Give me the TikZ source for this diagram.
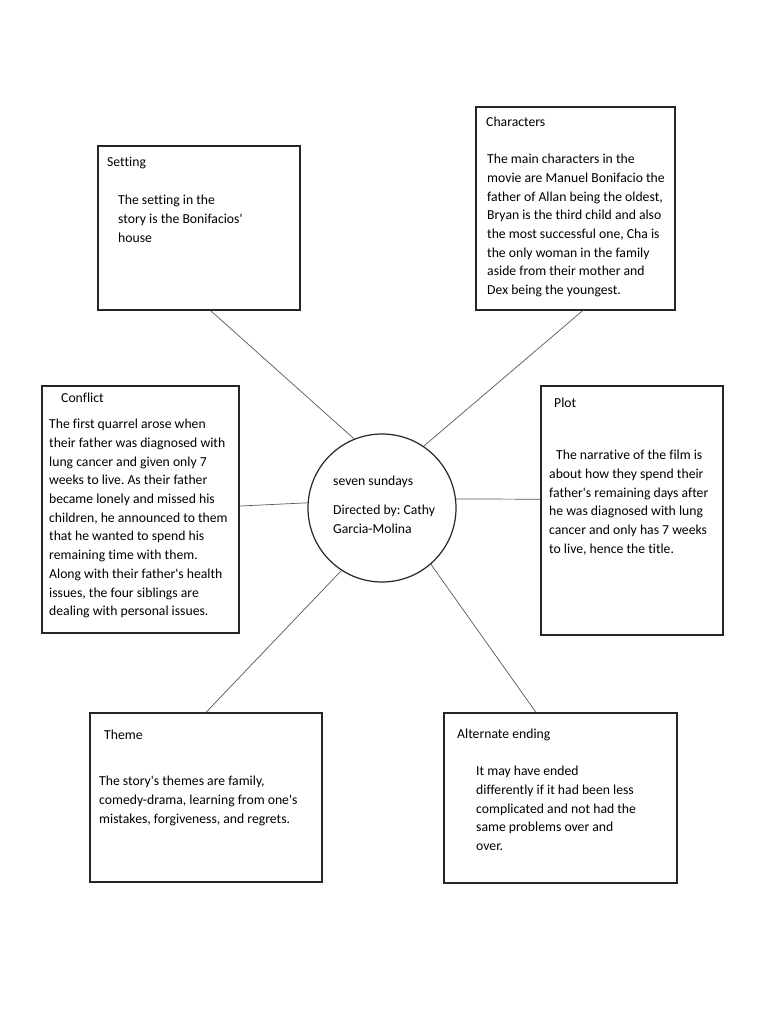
\documentclass[tikz,border=0pt]{standalone}
\usepackage{fontspec}
\setmainfont{Carlito}[Ligatures={TeX,NoCommon}]
\usepackage{tikz}
\usetikzlibrary{positioning, calc}
\frenchspacing

\begin{document}
\begin{tikzpicture}[x=1pt, y=-1pt,
        font=\fontsize{13.7}{18.7}\selectfont,
        infobox/.style={draw=black!85, line width=1.3pt, inner sep=0pt},
        hubcircle/.style={circle, draw=black!85, line width=1.2pt, inner sep=0pt, minimum size=148pt},
        title/.style={anchor=north west, inner sep=0pt, text=black},
        body/.style={anchor=north west, inner sep=0pt, align=left, text=black},
        spoke/.style={draw=black!65, line width=0.7pt}]
    \useasboundingbox[fill=white] (0,0) rectangle (768,1024);

    % Centre of the web
    \node[hubcircle] (hub) at (382,508) {};
    \node[body] (hubtext) at (333,476) {seven sundays\\[10pt]Directed by: Cathy\\Garcia-Molina};

    % Setting
    \node[infobox, minimum width=202pt, minimum height=164pt] (setting) at (199,228) {};
    \node[title] (settingtitle) at (107,157) {Setting};
    \node[body] (settingbody) at (118,195) {The setting in the\\story is the Bonifacios\textquotesingle\\house};

    % Characters
    \node[infobox, minimum width=199pt, minimum height=203pt] (characters) at (575.5,208.5) {};
    \node[title] (characterstitle) at (486,117) {Characters};
    \node[body] (charactersbody) at (487,154) {The main characters in the\\movie are Manuel Bonifacio the\\father of Allan being the oldest,\\Bryan is the third child and also\\the most successful one, Cha is\\the only woman in the family\\aside from their mother and\\Dex being the youngest.};

    % Conflict
    \node[infobox, minimum width=197pt, minimum height=247pt] (conflict) at (140.5,509.5) {};
    \node[title] (conflicttitle) at (61,393) {Conflict};
    \node[body] (conflictbody) at (49,419) {The first quarrel arose when\\their father was diagnosed with\\lung cancer and given only 7\\weeks to live. As their father\\became lonely and missed his\\children, he announced to them\\that he wanted to spend his\\remaining time with them.\\Along with their father\textquotesingle s health\\issues, the four siblings are\\dealing with personal issues.};

    % Plot
    \node[infobox, minimum width=182pt, minimum height=249pt] (plot) at (632,510.5) {};
    \node[title] (plottitle) at (554,398) {Plot};
    \node[body] (plotbody) at (549,450) {\hspace*{7pt}The narrative of the film is\\about how they spend their\\father\textquotesingle s remaining days after\\he was diagnosed with lung\\cancer and only has 7 weeks\\to live, hence the title.};

    % Theme
    \node[infobox, minimum width=232pt, minimum height=169pt] (theme) at (206,797.5) {};
    \node[title] (themetitle) at (104,730) {Theme};
    \node[body] (themebody) at (99,776) {The story\textquotesingle s themes are family,\\comedy-drama, learning from one\textquotesingle s\\mistakes, forgiveness, and regrets.};

    % Alternate ending
    \node[infobox, minimum width=233pt, minimum height=170pt] (alternate) at (560.5,798) {};
    \node[title] (alternatetitle) at (457,729) {Alternate ending};
    \node[body] (alternatebody) at (476,766) {It may have ended\\differently if it had been less\\complicated and not had the\\same problems over and\\over.};

    % Spokes from the boxes to the circle
    \draw[spoke] (setting.-82.4) -- (hub.112.6);
    \draw[spoke] (characters.-86.9) -- (hub.56);
    \draw[spoke] (conflict.2.6) -- (hub.176);
    \draw[spoke] (plot.173.4) -- (hub.7);
    \draw[spoke] (theme.90) -- (hub.237);
    \draw[spoke] (alternate.106.7) -- (hub.311);
\end{tikzpicture}
\end{document}
